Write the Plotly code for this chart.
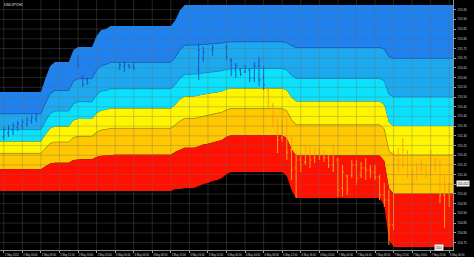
import plotly.graph_objects as go

# ---------------- data ----------------
bar_index = list(range(99))

band_top = [
    155.526, 155.526, 155.526, 155.526, 155.526, 155.526, 155.526, 155.526, 155.526, 155.526,
    155.598, 155.660, 155.680, 155.680, 155.680, 155.680, 155.742, 155.758, 155.758, 155.758,
    155.758, 155.814, 155.845, 155.851, 155.866, 155.866, 155.866, 155.866, 155.866, 155.866,
    155.866, 155.866, 155.866, 155.866, 155.866, 155.866, 155.866, 155.866, 155.897, 155.948,
    155.974, 155.974, 155.974, 155.974, 155.974, 155.974, 155.974, 155.974, 155.974, 155.974,
    155.974, 155.974, 155.974, 155.974, 155.974, 155.974, 155.974, 155.974, 155.974, 155.974,
    155.974, 155.974, 155.974, 155.974, 155.974, 155.974, 155.974, 155.974, 155.974, 155.974,
    155.974, 155.974, 155.974, 155.974, 155.974, 155.974, 155.974, 155.974, 155.974, 155.974,
    155.974, 155.974, 155.974, 155.974, 155.974, 155.974, 155.974, 155.974, 155.974, 155.974,
    155.974, 155.974, 155.974, 155.974, 155.974, 155.974, 155.974, 155.974, 155.974,
]
band_bottom = [
    155.015, 155.015, 155.015, 155.015, 155.015, 155.015, 155.015, 155.015, 155.015, 155.015,
    155.015, 155.015, 155.015, 155.015, 155.015, 155.015, 155.015, 155.015, 155.015, 155.015,
    155.015, 155.015, 155.015, 155.015, 155.015, 155.015, 155.015, 155.015, 155.015, 155.015,
    155.015, 155.015, 155.015, 155.015, 155.015, 155.015, 155.015, 155.015, 155.026, 155.026,
    155.031, 155.031, 155.031, 155.041, 155.052, 155.057, 155.067, 155.072, 155.082, 155.103,
    155.113, 155.113, 155.113, 155.113, 155.113, 155.113, 155.113, 155.113, 155.113, 155.113,
    155.113, 155.113, 155.093, 155.021, 154.979, 154.979, 154.979, 154.979, 154.979, 154.979,
    154.979, 154.979, 154.979, 154.979, 154.979, 154.979, 154.979, 154.979, 154.979, 154.979,
    154.979, 154.979, 154.979, 154.943, 154.763, 154.727, 154.727, 154.727, 154.727, 154.727,
    154.727, 154.727, 154.727, 154.727, 154.727, 154.727, 154.727, 154.727, 154.727,
]
level_ratios = [0.0, 0.22, 0.38, 0.5, 0.62, 0.78, 1.0]

blue_bar = [1, 2, 3, 4, 5, 6, 7, 8, 17, 18, 19, 26, 27, 28, 29,
            43, 44, 46, 49, 50, 51, 52, 53, 54, 55, 56, 57]
blue_open = [155.294, 155.314, 155.330, 155.345, 155.351, 155.361, 155.376, 155.387,
             155.691, 155.598, 155.588, 155.649, 155.660, 155.665, 155.660,
             155.639, 155.701, 155.742, 155.758, 155.691, 155.639, 155.639, 155.629,
             155.639, 155.598, 155.660, 155.598]
blue_high = [155.345, 155.356, 155.366, 155.376, 155.387, 155.397, 155.407, 155.418,
             155.716, 155.613, 155.603, 155.675, 155.686, 155.670, 155.680,
             155.778, 155.758, 155.768, 155.773, 155.701, 155.675, 155.649, 155.665,
             155.649, 155.680, 155.706, 155.660]
blue_low = [155.278, 155.294, 155.304, 155.325, 155.335, 155.345, 155.361, 155.371,
            155.649, 155.552, 155.562, 155.639, 155.629, 155.644, 155.639,
            155.588, 155.680, 155.711, 155.691, 155.608, 155.598, 155.608, 155.624,
            155.577, 155.577, 155.557, 155.536]
blue_close = [155.330, 155.340, 155.351, 155.361, 155.371, 155.381, 155.397, 155.407,
              155.665, 155.567, 155.572, 155.665, 155.670, 155.655, 155.649,
              155.742, 155.732, 155.753, 155.706, 155.629, 155.660, 155.619, 155.649,
              155.598, 155.660, 155.588, 155.562]

orange_bar = [58, 59, 60, 61, 62, 63, 64, 65, 66, 67, 68, 69, 70, 71, 72, 73, 74, 75, 76, 77,
              78, 79, 80, 81, 82, 83, 84, 85, 86, 87, 88, 89, 90, 91, 92, 93, 94, 95, 96, 97]
orange_open = [155.536, 155.459, 155.371, 155.289, 155.356, 155.227, 155.134, 155.175, 155.165, 155.227,
               155.186, 155.227, 155.201, 155.186, 155.149, 155.175, 155.031, 155.093, 155.098, 155.149,
               155.098, 155.134, 155.124, 155.113, 155.088, 154.995, 154.969, 154.840, 155.175, 155.149,
               155.216, 155.113, 155.082, 155.134, 155.124, 155.113, 155.175, 155.149, 154.995, 155.021]
orange_high = [155.546, 155.469, 155.392, 155.381, 155.392, 155.294, 155.227, 155.211, 155.253, 155.247,
               155.253, 155.242, 155.227, 155.201, 155.253, 155.186, 155.149, 155.098, 155.175, 155.175,
               155.165, 155.186, 155.149, 155.149, 155.098, 155.057, 155.021, 155.227, 155.237, 155.289,
               155.227, 155.124, 155.160, 155.175, 155.149, 155.227, 155.186, 155.175, 155.098, 155.057]
orange_low = [155.443, 155.345, 155.211, 155.268, 155.175, 155.072, 154.979, 155.113, 155.149, 155.134,
              155.160, 155.175, 155.165, 155.134, 155.113, 154.985, 154.990, 154.995, 155.082, 155.046,
              155.082, 155.072, 155.082, 155.072, 154.969, 154.933, 154.737, 154.814, 155.113, 155.134,
              155.082, 155.005, 155.072, 155.098, 155.082, 155.098, 155.113, 154.954, 154.825, 154.933]
orange_close = [155.474, 155.381, 155.278, 155.356, 155.216, 155.124, 155.175, 155.149, 155.227, 155.175,
                155.227, 155.201, 155.186, 155.149, 155.227, 155.021, 155.113, 155.021, 155.149, 155.082,
                155.134, 155.124, 155.113, 155.088, 154.995, 154.969, 154.840, 155.175, 155.149, 155.227,
                155.113, 155.072, 155.134, 155.124, 155.113, 155.186, 155.149, 154.995, 155.021, 155.052]

time_ticks = [1, 5, 9, 13, 17, 21, 25, 29, 33, 37, 41, 45, 49, 53, 57, 61, 65, 69, 73, 77, 81, 85, 89, 93, 97]
time_labels = ["2 May 2024", "2 May 04:00", "2 May 08:00", "2 May 12:00", "2 May 16:00", "2 May 20:00",
               "3 May 00:00", "3 May 04:00", "3 May 08:00", "3 May 12:00", "3 May 16:00", "3 May 20:00",
               "6 May 00:00", "6 May 04:00", "6 May 08:00", "6 May 12:00", "6 May 16:00", "6 May 20:00",
               "7 May 00:00", "7 May 04:00", "7 May 08:00", "7 May 12:00", "7 May 16:00", "7 May 20:00",
               "8 May 00:00"]
price_ticks = [154.75, 154.80, 154.85, 154.90, 154.95, 155.00, 155.05, 155.10, 155.15, 155.20,
               155.25, 155.30, 155.35, 155.40, 155.45, 155.50, 155.55, 155.60, 155.65, 155.70,
               155.75, 155.80, 155.85, 155.90, 155.95]
price_labels = ["154.75", "154.80", "154.85", "154.90", "154.95", "155.00", "155.05", "155.10", "155.15",
                "155.20", "155.25", "155.30", "155.35", "155.40", "155.45", "155.50", "155.55", "155.60",
                "155.65", "155.70", "155.75", "155.80", "155.85", "155.90", "155.95"]
symbol_title = "USDJPY,H1"
last_price = 155.052
last_price_label = "155.052"
bottom_box_bar = 94.8
bottom_box_price = 154.722
bottom_box_text = "155.0"

# ---------------- styles ----------------
band_colors = ["#1F82EE", "#1CA9F0", "#0BE0FC", "#FFF500", "#FFC800", "#FF1000"]
level_line_colors = ["#000000", "#1763C4", "#1391CF", "#0BE0FC", "#B3A300", "#FFC800", "#FF1000"]
level_line_widths = [0, 0.9, 0.9, 0, 0.9, 0, 0]
grid_color = "rgba(110,110,110,0.33)"
blue_bar_color = "#1C55C8"
orange_bar_color = "#FFA010"
tick_half = 0.3  # open/close tick length, in bars

levels = [[t - r * (t - b) for t, b in zip(band_top, band_bottom)] for r in level_ratios]

fig = go.Figure()
for k, lv in enumerate(levels):
    kw = dict(x=bar_index, y=lv, mode="lines", hoverinfo="skip", showlegend=False,
              line=dict(color=level_line_colors[k], width=level_line_widths[k]))
    if k > 0:
        kw["fill"] = "tonexty"
        kw["fillcolor"] = band_colors[k - 1]
    fig.add_trace(go.Scatter(**kw))


def bar_path(xs, o, h, l, c):
    px, py = [], []
    for x, oo, hh, ll, cc in zip(xs, o, h, l, c):
        px += [x, x, None, x - tick_half, x, None, x, x + tick_half, None]
        py += [ll, hh, None, oo, oo, None, cc, cc, None]
    return px, py


for xs, o, h, l, c, col in [
    (blue_bar, blue_open, blue_high, blue_low, blue_close, blue_bar_color),
    (orange_bar, orange_open, orange_high, orange_low, orange_close, orange_bar_color),
]:
    px, py = bar_path(xs, o, h, l, c)
    fig.add_trace(go.Scatter(x=px, y=py, mode="lines", line=dict(color=col, width=1),
                             hoverinfo="skip", showlegend=False, connectgaps=False))

for t in time_ticks:
    fig.add_shape(type="line", xref="x", yref="paper", x0=t, x1=t, y0=0, y1=1,
                  line=dict(color=grid_color, width=1), layer="above")
for p in price_ticks:
    fig.add_shape(type="line", xref="paper", yref="y", x0=0, x1=1, y0=p, y1=p,
                  line=dict(color=grid_color, width=1), layer="above")

# the current-price box replaces the nearest axis label, as in the terminal
shown_price_labels = ["" if abs(p - last_price) < 0.02 else s for p, s in zip(price_ticks, price_labels)]

fig.add_annotation(text=symbol_title, xref="paper", yref="paper", x=0.004, y=0.997,
                   xanchor="left", yanchor="top", showarrow=False,
                   font=dict(size=3.5, color="#e0e0e0", family="Liberation Sans"))
fig.add_annotation(text=last_price_label, xref="paper", yref="y", x=1, y=last_price,
                   xanchor="left", yanchor="middle", xshift=3, showarrow=False,
                   bgcolor="#f2f2f2", borderpad=0.5,
                   font=dict(size=3, color="#000000", family="Liberation Sans"))
fig.add_annotation(text=bottom_box_text, xref="x", yref="y", x=bottom_box_bar, y=bottom_box_price,
                   xanchor="center", yanchor="middle", showarrow=False,
                   bgcolor="#f0f0f0", borderpad=0.5,
                   font=dict(size=2.6, color="#000000", family="Liberation Sans"))

fig.update_layout(
    width=474, height=257,
    margin=dict(l=0, r=21, t=0, b=7),
    paper_bgcolor="#000000", plot_bgcolor="#000000",
    showlegend=False,
    font=dict(family="Liberation Sans", color="#d0d0d0"),
    xaxis=dict(range=[0.18, 97.81], tickvals=time_ticks, ticktext=time_labels,
               tickangle=0, tickfont=dict(size=2.6, color="#d0d0d0"),
               ticks="outside", ticklen=2, tickcolor="#a0a0a0",
               ticklabelshift=8, ticklabelstandoff=0, ticklabeloverflow="allow",
               showgrid=False, zeroline=False, showline=True, linecolor="#909090", linewidth=1,
               fixedrange=True),
    yaxis=dict(range=[154.7113, 156.0], side="right", tickvals=price_ticks, ticktext=shown_price_labels,
               tickfont=dict(size=3, color="#d0d0d0"), ticks="outside", ticklen=2, tickcolor="#a0a0a0",
               ticklabelstandoff=1,
               showgrid=False, zeroline=False, showline=True, linecolor="#909090", linewidth=1,
               fixedrange=True),
)

fig.write_html("out.html")
